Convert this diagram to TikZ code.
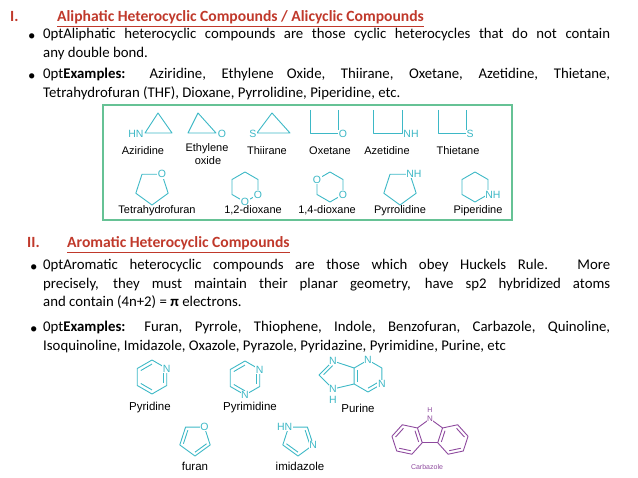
\documentclass[tikz,border=0pt]{standalone}
\usepackage{fontspec}
\setmainfont{Carlito}
\newfontfamily\arialf{Liberation Sans}
\usetikzlibrary{calc}
\definecolor{hred}{HTML}{C0392B}
\definecolor{chem}{HTML}{3DB8C6}
\definecolor{boxg}{HTML}{66C295}
\definecolor{purp}{HTML}{8E4A9E}
\tikzset{
 txt/.style={anchor=north west,inner sep=0pt,font=\fontsize{14.8}{18.7}\selectfont\hyphenpenalty=10000,text width=567pt,align=justify},
 bul/.style={anchor=base west,inner sep=0pt,font=\fontsize{14.8}{18}\selectfont},
 head/.style={anchor=base west,inner sep=0pt,font=\fontsize{15.6}{18}\selectfont\bfseries,text=hred},
 ring/.style={draw=chem,line width=0.9pt,line join=round},
 atom/.style={text=chem,font=\arialf\fontsize{10.5}{11}\selectfont,fill=white,inner sep=0.6pt},
 lab/.style={font=\arialf\fontsize{11}{12}\selectfont,inner sep=0pt,anchor=base},
 blab/.style={font=\arialf\fontsize{11.5}{12}\selectfont,inner sep=0pt,anchor=base},
}
\newcommand{\ringpts}[4]{% name, center, radius, angles
 \coordinate (#1-c) at (#2);
 \foreach \a [count=\i] in {#4} {\coordinate (#1-\i) at ($(#2)+(\a:#3)$);}}
\newcommand{\dbl}[3]{\draw[ring] ($(#1-c)!0.76!(#1-#2)$) -- ($(#1-c)!0.76!(#1-#3)$);}
\begin{document}
\begin{tikzpicture}[x=1pt,y=-1pt]
\useasboundingbox (0,0) rectangle (638,478);
% Section I
\node[head] (h1n) at (10,22) {I.};
\node[head] (h1) at (57,22) {\underline{Aliphatic Heterocyclic Compounds / Alicyclic Compounds}};
\node[bul] (b1) at (28,41) {•};
\node[txt] (t1) at (43,28) {Aliphatic heterocyclic compounds are those cyclic heterocycles that do not contain\linebreak any double bond.};
\node[bul] (b2) at (28,81) {•};
\node[txt] (t2) at (43,68) {\textbf{Examples:} Aziridine, Ethylene Oxide, Thiirane, Oxetane, Azetidine, Thietane,\linebreak Tetrahydrofuran (THF), Dioxane, Pyrrolidine, Piperidine, etc.};
% box
\draw[boxg,line width=1.2pt] (103,105) rectangle (512,220);
% Aziridine
\draw[ring] (145,133) -- (158,113) -- (172,133) -- cycle;
\node[atom] (azn) at (136,134) {HN};
\node[lab] (l1) at (143,155) {Aziridine};
% Ethylene oxide
\draw[ring] (188,133) -- (198,113) -- (216,133) -- cycle;
\node[atom] (eo) at (222,134) {O};
\node[lab] (l2) at (207,152) {Ethylene};
\node[lab] (l2b) at (208,165) {oxide};
% Thiirane
\draw[ring] (257,133) -- (272,113) -- (290,133) -- cycle;
\node[atom] (ts) at (253,134) {S};
\node[lab] (l3) at (267,155) {Thiirane};
% Oxetane
\draw[ring] (310,110) -- (310,133) -- (338,133) -- (338,110);
\node[atom] (ox) at (343,134) {O};
\node[lab] (l4) at (330,155) {Oxetane};
% Azetidine
\draw[ring] (373,110) -- (373,133) -- (402,133) -- (402,110);
\node[atom] (azt) at (411,134) {NH};
\node[lab] (l5) at (387,155) {Azetidine};
% Thietane
\draw[ring] (438,110) -- (438,133) -- (466,133) -- (466,110);
\node[atom] (ths) at (470,134) {S};
\node[lab] (l6) at (458,155) {Thietane};
% THF
\ringpts{thf}{152,188}{17}{90,162,234,306,18}
\draw[ring] (thf-1)--(thf-2)--(thf-3)--(thf-4)--(thf-5)--cycle;
\node[atom] (thfo) at (thf-4) {O};
\node[lab] (l7) at (157,214) {Tetrahydrofuran};
% 1,2-dioxane
\ringpts{d12}{245,187}{15}{-90,-30,30,90,150,210}
\draw[ring] (d12-1)--(d12-2)--(d12-3)--(d12-4)--(d12-5)--(d12-6)--cycle;
\node[atom] (o1) at (d12-3) {O};
\node[atom] (o2) at (d12-4) {O};
\node[lab] (l8) at (253,214) {1,2-dioxane};
% 1,4-dioxane
\ringpts{d14}{330,187}{15}{-90,-30,30,90,150,210}
\draw[ring] (d14-1)--(d14-2)--(d14-3)--(d14-4)--(d14-5)--(d14-6)--cycle;
\node[atom] (o3) at (d14-6) {O};
\node[atom] (o4) at (d14-3) {O};
\node[lab] (l9) at (327,214) {1,4-dioxane};
% Pyrrolidine
\ringpts{pyr}{400,188}{17}{90,162,234,306,18}
\draw[ring] (pyr-1)--(pyr-2)--(pyr-3)--(pyr-4)--(pyr-5)--cycle;
\node[atom] (pnh) at ($(pyr-4)+(4,0)$) {NH};
\node[lab] (l10) at (400,214) {Pyrrolidine};
% Piperidine
\ringpts{pip}{475,187}{15}{-90,-30,30,90,150,210}
\draw[ring] (pip-1)--(pip-2)--(pip-3)--(pip-4)--(pip-5)--(pip-6)--cycle;
\node[atom] (pinh) at ($(pip-3)+(5,0)$) {NH};
\node[lab] (l11) at (478,214) {Piperidine};
% Section II
\node[head] (h2n) at (27,248) {II.};
\node[head] (h2) at (67,248) {\underline{Aromatic Heterocyclic Compounds}};
\node[bul] (b3) at (30,272) {•};
\node[txt] (t3) at (43,259) {Aromatic heterocyclic compounds are those which obey Huckels Rule. More\linebreak precisely, they must maintain their planar geometry, have sp2 hybridized atoms\linebreak and contain (4n+2) = \textbf{π} electrons.};
\node[bul] (b4) at (30,334) {•};
\node[txt] (t4) at (43,321) {\textbf{Examples:} Furan, Pyrrole, Thiophene, Indole, Benzofuran, Carbazole, Quinoline,\linebreak Isoquinoline, Imidazole, Oxazole, Pyrazole, Pyridazine, Pyrimidine, Purine, etc};
% Pyridine
\ringpts{py}{152,377}{17}{-90,-30,30,90,150,210}
\draw[ring] (py-1)--(py-2)--(py-3)--(py-4)--(py-5)--(py-6)--cycle;
\dbl{py}{2}{3}\dbl{py}{4}{5}\dbl{py}{6}{1}
\node[atom] (pyn) at (py-2) {N};
\node[blab] (l12) at (150,411) {Pyridine};
% Pyrimidine
\ringpts{pm}{245,378}{17}{-90,-30,30,90,150,210}
\draw[ring] (pm-1)--(pm-2)--(pm-3)--(pm-4)--(pm-5)--(pm-6)--cycle;
\dbl{pm}{2}{3}\dbl{pm}{4}{5}\dbl{pm}{6}{1}
\node[atom] (pmn1) at (pm-2) {N};
\node[atom] (pmn2) at (pm-4) {N};
\node[blab] (l13) at (250,411) {Pyrimidine};
% Purine
\ringpts{pu}{368,376}{16}{-90,-30,30,90,150,210}
\coordinate (pu5a) at (333,361);
\coordinate (pu5b) at (319,375);
\coordinate (pu5c) at (333,389);
\draw[ring] (pu-1)--(pu-2)--(pu-3)--(pu-4)--(pu-5)--(pu-6)--cycle;
\draw[ring] (pu-6)--(pu5a)--(pu5b)--(pu5c)--(pu-5);
\dbl{pu}{3}{4}\dbl{pu}{5}{6}
\draw[ring] ($(pu5a)!0.2!(pu5b)+(2.5,1.8)$) -- ($(pu5a)!0.85!(pu5b)+(2.5,1.8)$);
\node[atom] (pun1) at (pu-1) {N};
\node[atom] (pun2) at (pu-3) {N};
\node[atom] (pun3) at (pu5a) {N};
\node[atom] (pun4) at (pu5c) {N};
\node[atom] (puh) at (333,400) {H};
\node[blab] (l14) at (358,413) {Purine};
% furan
\ringpts{fu}{195,440}{16}{306,18,90,162,234}
\draw[ring] (fu-1)--(fu-2)--(fu-3)--(fu-4)--(fu-5)--cycle;
\dbl{fu}{2}{3}\dbl{fu}{4}{5}
\node[atom] (fuo) at (fu-1) {O};
\node[blab] (l15) at (195,471) {furan};
% imidazole
\ringpts{im}{298,440}{16}{234,306,18,90,162}
\draw[ring] (im-1)--(im-2)--(im-3)--(im-4)--(im-5)--cycle;
\dbl{im}{2}{3}\dbl{im}{4}{5}
\node[atom] (imnh) at ($(im-1)+(-4,0)$) {HN};
\node[atom] (imn) at (im-3) {N};
\node[blab] (l16) at (300,471) {imidazole};
% Carbazole
\begin{scope}[ring/.append style={draw=purp}]
\ringpts{cz}{430,432}{13.2}{-90,-18,54,126,198}
\ringpts{cr}{452.9,439.5}{15.5}{228,288,348,48,108,168}
\ringpts{cl}{407.1,439.5}{15.5}{312,252,192,132,72,12}
\draw[ring] (cz-2)--(cz-1)--(cz-5);
\draw[ring] (cz-3)--(cz-4);
\draw[ring] (cr-1)--(cr-2)--(cr-3)--(cr-4)--(cr-5)--(cr-6)--cycle;
\draw[ring] (cl-1)--(cl-2)--(cl-3)--(cl-4)--(cl-5)--(cl-6)--cycle;
\dbl{cr}{2}{3}\dbl{cr}{4}{5}\dbl{cr}{6}{1}
\dbl{cl}{2}{3}\dbl{cl}{4}{5}\dbl{cl}{6}{1}
\end{scope}
\node[atom,text=purp,font=\arialf\fontsize{8}{9}\selectfont] (czn) at (cz-1) {N};
\node[text=purp,font=\arialf\fontsize{7}{8}\selectfont,inner sep=0pt] (czh) at (430,410) {H};
\node[blab,text=purp,font=\arialf\fontsize{7}{8}\selectfont] (l17) at (427,470) {Carbazole};
\end{tikzpicture}
\end{document}
